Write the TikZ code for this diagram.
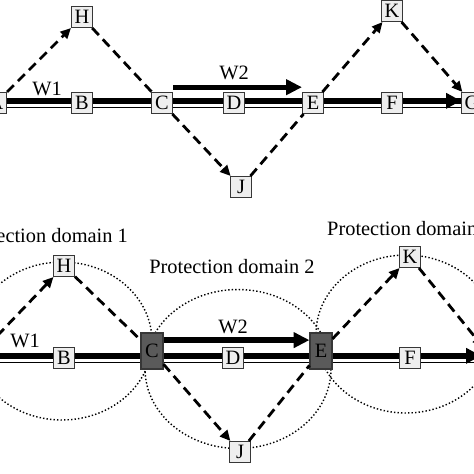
\documentclass[tikz,border=0pt]{standalone}
\usepackage{fontspec}
\setmainfont{Liberation Serif}
\usetikzlibrary{arrows.meta,backgrounds}
\definecolor{nodegray}{RGB}{238,238,238}
\definecolor{hubgray}{RGB}{90,90,90}
\definecolor{edgegray}{RGB}{55,55,55}
\begin{document}
\begin{tikzpicture}[x=0.02cm,y=-0.02cm,font=\fontsize{11.6}{14}\selectfont,
 nd/.style={draw=edgegray,line width=0.6pt,fill=nodegray,minimum width=0.42cm,minimum height=0.42cm,inner sep=0pt},
 hub/.style={nd,fill=hubgray,minimum width=0.44cm,minimum height=0.72cm},
 band/.style={line width=5.7pt},
 strip/.style={white,line width=1.7pt,transform canvas={yshift=-1.3pt}},
 work/.style={line width=3.2pt,-{Triangle[length=8.5pt,width=8.5pt]},transform canvas={yshift=1.25pt}},
 wide/.style={line width=3pt,-{Triangle[length=9pt,width=8.5pt]}},
 bkp/.style={line width=1.6pt,dash pattern=on 5.5pt off 3.3pt},
 bkpa/.style={bkp,-{Triangle[length=6pt,width=5.5pt]}},
 dom/.style={line width=0.8pt,dash pattern=on 0.8pt off 1.2pt}]
\useasboundingbox (0,0) rectangle (474,474);
% upper network
\node[nd] (A1) at (-4,103) {A};
\node[nd] (B1) at (82,103) {B};
\node[nd] (C1) at (162,103) {C};
\node[nd] (D1) at (234,103) {D};
\node[nd] (E1) at (313,103) {E};
\node[nd] (F1) at (392,103) {F};
\node[nd] (G1) at (472,103) {G};
\node[nd] (H1) at (82,17) {H};
\node[nd] (J1) at (241,187) {J};
\node[nd] (K1) at (392,11) {K};
\node (w11) at (47,89) {W1};
\node (w21) at (234,73) {W2};
% lower network
\node[nd] (A2) at (-24,358) {A};
\node[nd] (B2) at (64,358) {B};
\node[hub] (C2) at (152,351) {C};
\node[nd] (D2) at (233,358) {D};
\node[hub] (E2) at (321,351) {E};
\node[nd] (F2) at (410,358) {F};
\node[nd] (G2) at (492,358) {G};
\node[nd] (H2) at (64,266) {H};
\node[nd] (J2) at (240,452) {J};
\node[nd] (K2) at (410,257) {K};
\node (w12) at (25,341) {W1};
\node (w22) at (233,327) {W2};
\node[anchor=east] (pd1) at (134,236) {Protection domain 1};
\node (pd2) at (232,267) {Protection domain 2};
\node[anchor=west] (pd3) at (321,229) {Protection domain 3};
\begin{scope}[on background layer]
\draw[dom] (62,341) ellipse [x radius=1.8cm,y radius=1.58cm];
\draw[dom] (238,369) ellipse [x radius=1.86cm,y radius=1.59cm];
\draw[dom] (406,334) ellipse [x radius=1.8cm,y radius=1.58cm];
\draw[band] (A1)--(G1); \draw[strip] (A1)--(G1); \draw[work] (A1)--(G1);
\draw[band] (A2)--(G2); \draw[strip] (A2)--(G2); \draw[work] (A2)--(G2);
\end{scope}
\draw[wide] ([yshift=9pt]C1.east)--([yshift=9pt]E1.west);
\draw[wide] ([yshift=6.2pt]C2.east)--([yshift=6.2pt]E2.west);
\draw[bkpa] (A1)--(H1); \draw[bkp] (H1)--(C1); \draw[bkpa] (C1)--(J1);
\draw[bkp] (J1)--(E1); \draw[bkpa] (E1)--(K1); \draw[bkpa] (K1)--(G1);
\draw[bkpa] (A2)--(H2); \draw[bkp] (H2)--(C2); \draw[bkpa] (C2)--(J2);
\draw[bkp] (J2)--(E2); \draw[bkpa] (E2)--(K2); \draw[bkpa] (K2)--(G2);
\end{tikzpicture}
\end{document}
